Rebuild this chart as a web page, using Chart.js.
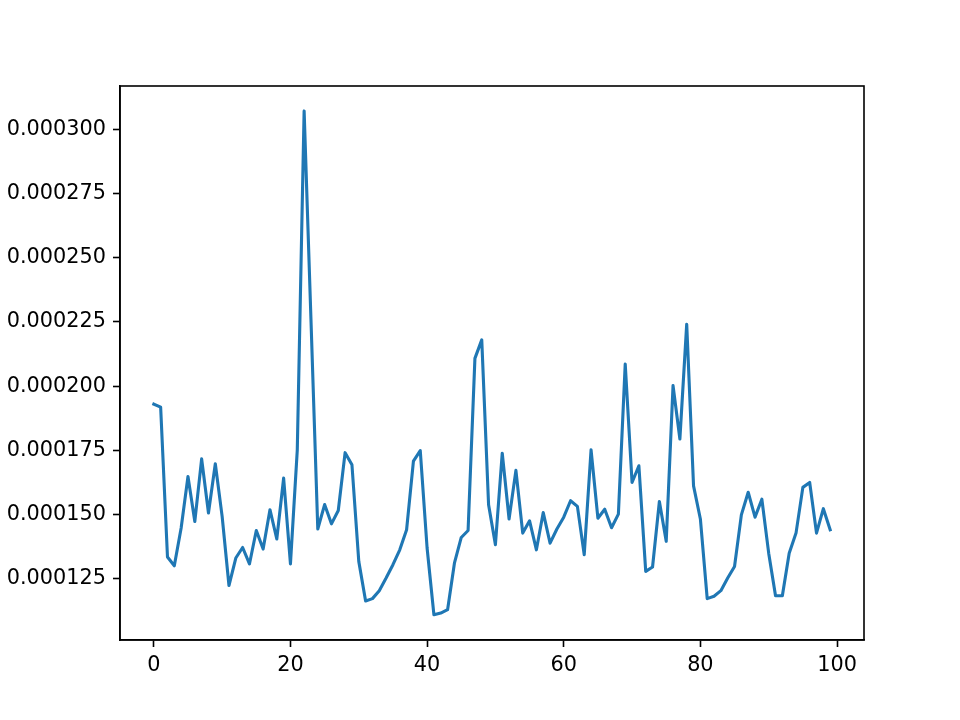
<!DOCTYPE html>
<html>
<head>
<meta charset="utf-8">
<script src="https://cdn.jsdelivr.net/npm/chart.js@4/dist/chart.umd.min.js"></script>
<style>
  html, body { margin: 0; padding: 0; background: #fff; }
  #wrap { width: 960px; height: 720px; }
</style>
</head>
<body>
<div id="wrap"><canvas id="lineChart" width="960" height="720"></canvas></div>
<script>
// Значения ряда (индекс 0..99)
const seriesValues = [
    0.0001930, 0.0001918, 0.0001335, 0.0001301, 0.0001448, 0.0001648, 0.0001473, 0.0001717, 0.0001506, 0.0001698,
    0.0001493, 0.0001224, 0.0001331, 0.0001372, 0.0001308, 0.0001438, 0.0001366, 0.0001519, 0.0001405, 0.0001642,
    0.0001308, 0.0001752, 0.0003071, 0.0002260, 0.0001444, 0.0001539, 0.0001464, 0.0001516, 0.0001741, 0.0001694,
    0.0001318, 0.0001164, 0.0001173, 0.0001204, 0.0001253, 0.0001305, 0.0001363, 0.0001441, 0.0001708, 0.0001749,
    0.0001370, 0.0001110, 0.0001117, 0.0001130, 0.0001311, 0.0001411, 0.0001438, 0.0002108, 0.0002180, 0.0001538,
    0.0001383, 0.0001739, 0.0001483, 0.0001672, 0.0001428, 0.0001476, 0.0001363, 0.0001508, 0.0001389, 0.0001444,
    0.0001490, 0.0001554, 0.0001532, 0.0001344, 0.0001752, 0.0001486, 0.0001521, 0.0001449, 0.0001502, 0.0002086,
    0.0001625, 0.0001690, 0.0001279, 0.0001296, 0.0001551, 0.0001396, 0.0002002, 0.0001794, 0.0002241, 0.0001612,
    0.0001483, 0.0001173, 0.0001182, 0.0001204, 0.0001253, 0.0001298, 0.0001499, 0.0001587, 0.0001490, 0.0001560,
    0.0001350, 0.0001184, 0.0001184, 0.0001350, 0.0001428, 0.0001606, 0.0001625, 0.0001428, 0.0001523, 0.0001441
];
// Позиции по оси X — просто номера точек
const stepIndex = seriesValues.map((_, i) => i);

// Подписи делений
const xTickValues = [0, 20, 40, 60, 80, 100];
const yTickValues = [0.000125, 0.000150, 0.000175, 0.000200, 0.000225, 0.000250, 0.000275, 0.000300];

// Рамка вокруг области графика, как у matplotlib
const framePlugin = {
    id: 'frame',
    afterDraw(chart) {
        const { ctx, chartArea: a } = chart;
        ctx.save();
        ctx.strokeStyle = '#000';
        ctx.lineWidth = 1.6;
        ctx.strokeRect(a.left, a.top, a.right - a.left, a.bottom - a.top);
        ctx.restore();
    }
};

const tickFont = { family: 'DejaVu Sans', size: 20.8 };

const ctx = document.getElementById('lineChart').getContext('2d');
new Chart(ctx, {
    type: 'line',
    data: {
        datasets: [{
            data: stepIndex.map((x, i) => ({ x: x, y: seriesValues[i] })),
            borderColor: '#1f77b4',
            borderWidth: 3.1,
            pointRadius: 0,
            tension: 0,
            fill: false,
            borderJoinStyle: 'round',
            borderCapStyle: 'square'
        }]
    },
    options: {
        responsive: false,
        animation: false,
        devicePixelRatio: 1,
        layout: { padding: { left: 0, top: 86, right: 96, bottom: 0 } },
        plugins: {
            legend: { display: false },
            tooltip: { enabled: false }
        },
        scales: {
            x: {
                type: 'linear',
                min: -4.95,
                max: 103.95,
                afterBuildTicks: s => { s.ticks = xTickValues.map(v => ({ value: v })); },
                afterFit: s => { s.height = 80; },
                ticks: {
                    color: '#000',
                    font: tickFont,
                    padding: 6,
                    maxRotation: 0,
                    autoSkip: false,
                    callback: v => String(v)
                },
                grid: {
                    drawOnChartArea: false,
                    drawTicks: true,
                    tickLength: 7,
                    tickWidth: 1.6,
                    tickColor: '#000'
                },
                border: { display: true, color: '#000', width: 1.6 }
            },
            y: {
                type: 'linear',
                min: 0.0001012,
                max: 0.0003168,
                afterBuildTicks: s => { s.ticks = yTickValues.map(v => ({ value: v })); },
                afterFit: s => { s.width = 120; },
                ticks: {
                    color: '#000',
                    font: tickFont,
                    padding: 7,
                    autoSkip: false,
                    callback: v => Number(v).toFixed(6)
                },
                grid: {
                    drawOnChartArea: false,
                    drawTicks: true,
                    tickLength: 7,
                    tickWidth: 1.6,
                    tickColor: '#000'
                },
                border: { display: true, color: '#000', width: 1.6 }
            }
        }
    },
    plugins: [framePlugin]
});
</script>
</body>
</html>
